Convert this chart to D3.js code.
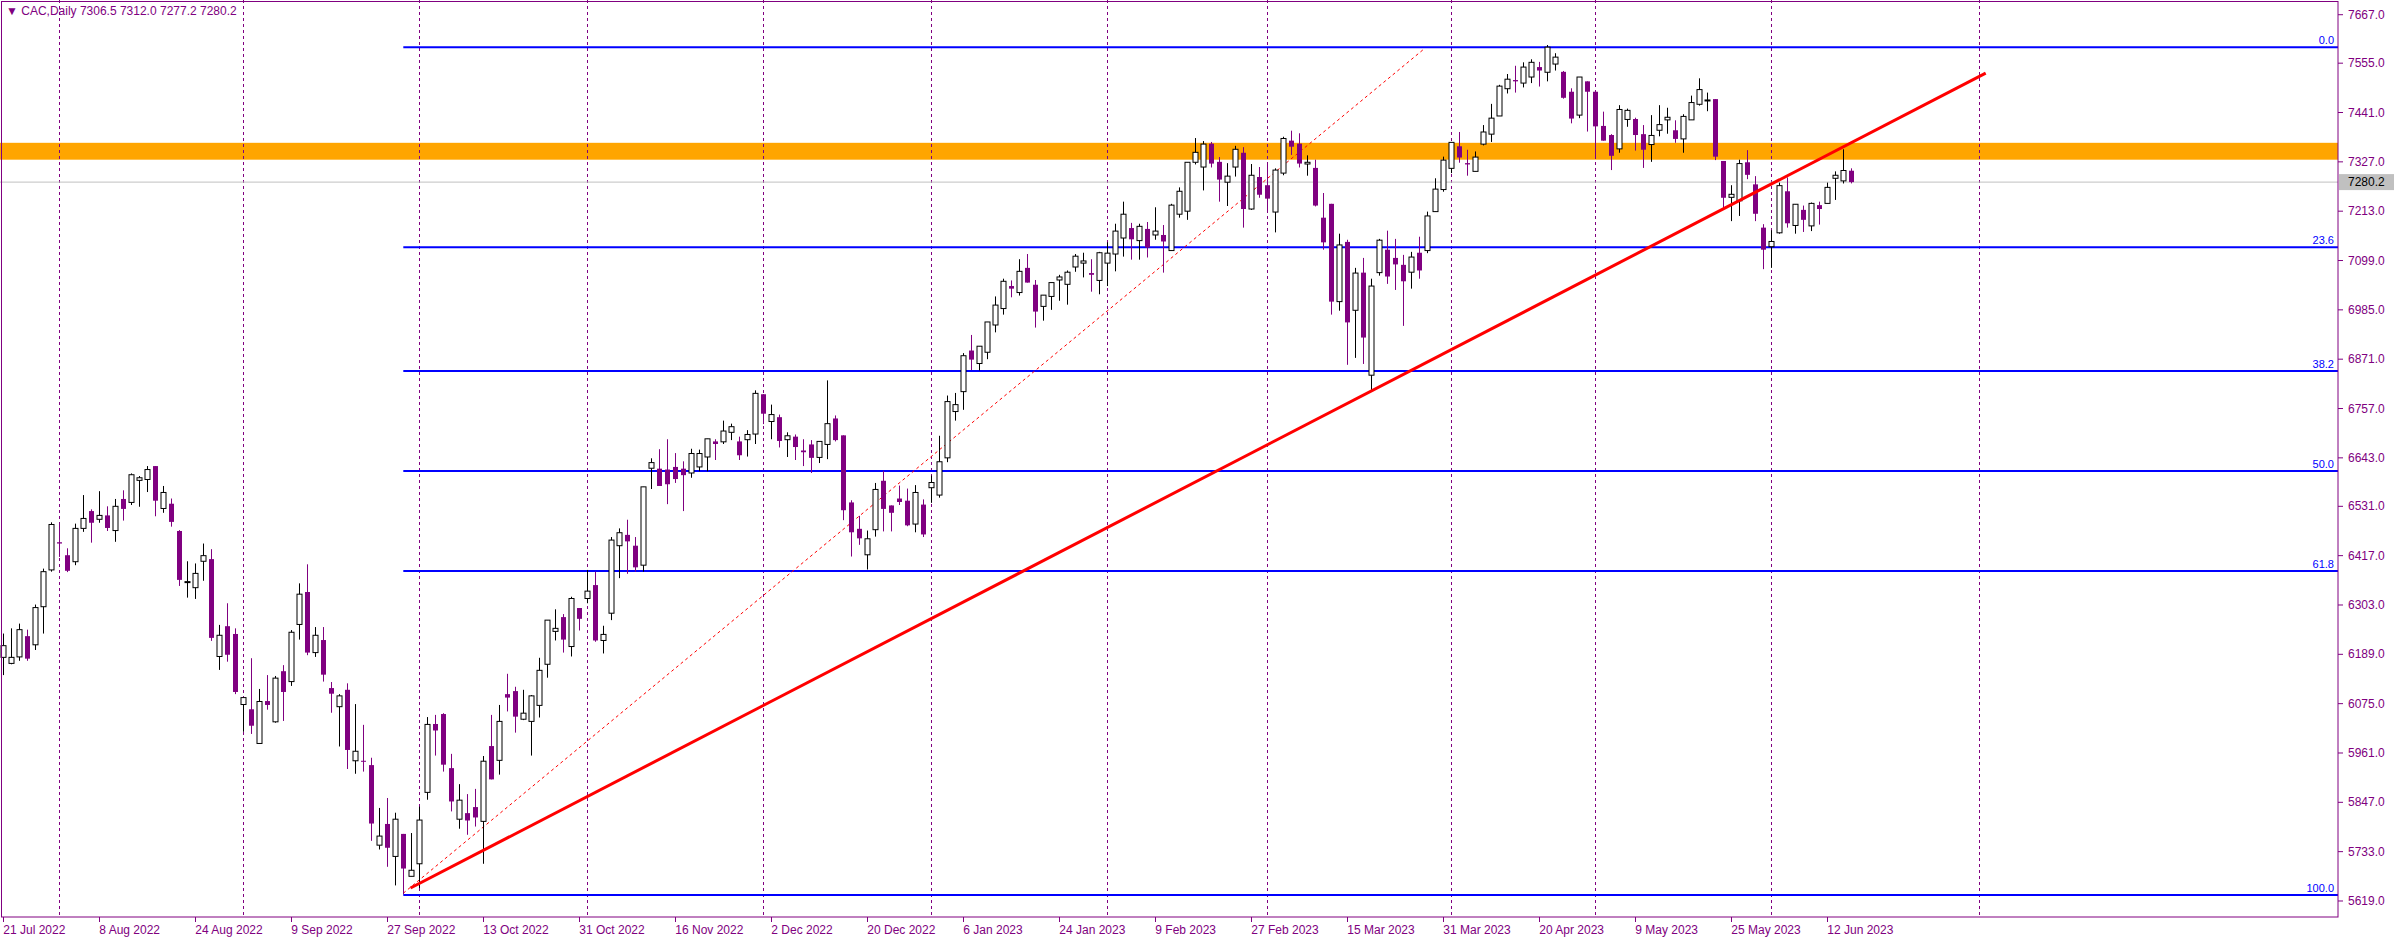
<!DOCTYPE html>
<html><head><meta charset="utf-8">
<script src="https://cdn.jsdelivr.net/npm/d3@7/dist/d3.min.js"></script>
<style>body{margin:0;background:#fff}svg{display:block}text{font-family:"Liberation Sans",Arial,sans-serif}</style>
</head><body>
<script>
// OHLC per trading day starting 21 Jul 2022
const opens=[6182,6168,6183,6231,6211,6299,6384,6448,6418,6403,6480,6520,6501,6510,6475,6548,6540,6591,6593,6624,6526,6537,6474,6356,6343,6404,6409,6184,6254,6236,6073,6062,5983,6081,6033,6150,6126,6258,6333,6193,6222,
6111,6068,6107,5943,5943,5933,5748,5797,5722,5774,5676,5705,5870,6028,6051,5926,5808,5822,5836,5803,5977,5944,6097,6104,6039,6034,6071,6166,6242,6275,6207,6296,6318,6349,6221,6284,6440,6465,6440,
6395,6619,6618,6616,6622,6618,6608,6622,6645,6681,6680,6702,6681,6685,6698,6790,6727,6737,6685,6692,6660,6674,6644,6674,6734,6695,6540,6479,6419,6477,6590,6533,6549,6544,6490,6535,6574,6557,6643,6750,6796,
6891,6861,6887,6950,6988,7040,7025,7082,7043,6993,7016,7054,7044,7084,7093,7070,7053,7093,7114,7151,7174,7145,7172,7158,7158,7122,7206,7213,7326,7315,7369,7327,7280,7315,7348,7218,7292,7273,7211,7301,
7376,7369,7322,7313,7198,7230,7004,7142,6984,7071,6834,7071,7124,7105,7089,7072,7117,7122,7212,7263,7312,7363,7324,7305,7368,7391,7433,7496,7516,7509,7523,7546,7534,7553,7535,7489,7435,7513,7489,7410,
7389,7357,7425,7426,7391,7367,7400,7424,7400,7380,7424,7460,7468,7472,7329,7245,7237,7326,7275,7175,7131,7163,7259,7180,7216,7179,7227,7231,7289,7283,7306.5];
const highs=[6237,6249,6260,6246,6304,6387,6494,6489,6434,6491,6557,6524,6566,6531,6548,6568,6607,6601,6624,6624,6578,6549,6476,6404,6399,6445,6432,6257,6307,6249,6089,6180,6109,6141,6139,6164,6245,6353,6397,6252,6252,
6125,6097,6122,6074,6026,5950,5834,5857,5823,5774,5776,5837,6044,6049,6053,5959,5889,5866,5878,5954,6049,6072,6144,6114,6107,6095,6181,6268,6293,6282,6322,6296,6384,6380,6255,6460,6480,6500,6460,
6576,6642,6663,6686,6654,6635,6664,6662,6687,6686,6729,6722,6692,6707,6799,6790,6766,6743,6702,6697,6686,6684,6681,6822,6741,6695,6545,6509,6475,6585,6613,6533,6579,6572,6580,6547,6602,6694,6787,6793,6885,
6927,6901,6957,7016,7057,7053,7102,7114,7054,7019,7048,7066,7076,7114,7117,7102,7119,7141,7184,7235,7186,7184,7188,7222,7181,7230,7268,7326,7382,7375,7373,7338,7324,7364,7361,7322,7315,7324,7312,7385,
7399,7393,7342,7332,7255,7230,7161,7147,7082,7105,7057,7149,7168,7149,7112,7119,7154,7212,7289,7339,7372,7396,7355,7351,7412,7461,7505,7530,7549,7557,7564,7558,7597,7578,7537,7497,7523,7513,7489,7443,
7391,7458,7450,7429,7412,7435,7458,7452,7423,7437,7480,7520,7487,7472,7329,7273,7332,7354,7294,7183,7169,7279,7291,7229,7226,7233,7235,7279,7305,7356,7312];
const lows=[6141,6166,6174,6174,6199,6237,6380,6414,6379,6395,6472,6447,6493,6474,6449,6498,6534,6530,6564,6508,6516,6484,6347,6320,6317,6359,6220,6153,6172,6097,6010,6005,5983,6061,6031,6035,6116,6223,6187,6183,6126,
6054,5976,5924,5913,5918,5758,5738,5698,5655,5634,5676,5649,5853,5955,5918,5826,5786,5772,5791,5705,5900,5911,6057,6008,6037,5955,6043,6135,6221,6193,6184,6244,6307,6218,6191,6268,6365,6375,6380,
6380,6571,6578,6536,6585,6520,6597,6612,6612,6638,6675,6684,6638,6646,6675,6721,6686,6667,6645,6638,6624,6608,6631,6640,6681,6499,6415,6442,6385,6461,6473,6473,6534,6485,6471,6460,6539,6551,6633,6729,6754,
6846,6845,6871,6933,6974,7014,7018,7048,6944,6960,6985,7006,6997,7073,7060,7027,7021,7040,7074,7108,7101,7101,7106,7147,7071,7122,7198,7193,7321,7261,7314,7235,7225,7293,7175,7216,7244,7214,7164,7296,
7343,7314,7295,7224,7124,6974,6983,6858,6874,6860,6796,7064,7045,7031,6948,7034,7057,7116,7212,7258,7301,7325,7295,7305,7365,7373,7433,7485,7487,7499,7509,7501,7513,7538,7473,7416,7428,7397,7335,7376,
7308,7348,7408,7353,7313,7327,7386,7392,7371,7348,7424,7457,7444,7331,7219,7190,7202,7287,7190,7079,7082,7161,7175,7161,7165,7167,7182,7231,7239,7277,7277.2];
const closes=[6209,6182,6246,6179,6297,6380,6489,6445,6382,6480,6503,6493,6510,6481,6531,6525,6604,6597,6616,6544,6563,6495,6361,6357,6376,6417,6227,6233,6188,6102,6089,6024,6080,6072,6134,6102,6240,6328,6193,6233,6142,
6098,6093,5968,5965,5942,5798,5769,5742,5808,5694,5690,5806,6027,6013,5934,5849,5852,5805,5812,5942,5900,6034,6089,6045,6053,6093,6152,6268,6249,6223,6318,6271,6335,6221,6235,6453,6470,6450,6390,
6576,6632,6578,6582,6594,6603,6653,6653,6687,6675,6705,6715,6649,6697,6792,6745,6743,6682,6694,6668,6656,6643,6681,6722,6684,6522,6471,6457,6456,6570,6525,6516,6541,6487,6563,6466,6586,6634,6773,6766,6879,
6870,6901,6957,6996,7051,7034,7074,7048,6981,7019,7048,7061,7072,7109,7098,7066,7117,7116,7167,7206,7148,7178,7129,7167,7143,7227,7259,7326,7349,7368,7323,7286,7294,7356,7218,7296,7251,7242,7308,7381,
7362,7323,7326,7226,7141,7004,7135,6956,7070,6921,7040,7146,7062,7090,7051,7107,7076,7202,7264,7331,7372,7337,7321,7338,7396,7428,7502,7518,7513,7546,7557,7538,7592,7569,7475,7427,7523,7489,7409,7376,
7341,7448,7446,7389,7355,7388,7413,7430,7380,7432,7464,7494,7470,7339,7244,7252,7323,7297,7207,7124,7143,7272,7185,7229,7193,7231,7218,7268,7296,7307,7280.2];
const holidays=["2022-12-26","2023-04-07","2023-04-10","2023-05-01"];
const priceTicks=[7667,7555,7441,7327,7213,7099,6985,6871,6757,6643,6531,6417,6303,6189,6075,5961,5847,5733,5619];
const fibHigh=7592, fibLow=5633, fibStartBar=50;
const fibLevels=[0,23.6,38.2,50,61.8,100];
const zone=[7332,7371];
const lastPrice=7280.2;
const trendPts=[{i:50.9,p:5649},{i:247.8,p:7532}];
const fibDiag=[{i:50,p:5637},{i:177.6,p:7588}];
const labelBars=[0,12,24,36,48,60,72,84,96,108,120,132,144,156,168,180,192,204,216,228];
const futureGridBar=247;

const days=[];{let d=new Date(Date.UTC(2022,6,21));while(days.length<240){const w=d.getUTCDay();const s=d.toISOString().slice(0,10);if(w!==0&&w!==6&&!holidays.includes(s))days.push(new Date(d));d=new Date(d.getTime()+864e5);}}
const data=opens.map((o,i)=>({i,o,h:highs[i],l:lows[i],c:closes[i]}));

const W=2396,H=941,R=2338,B=917;
const svg=d3.select("body").append("svg").attr("width",W).attr("height",H);
const x=d3.scaleLinear().domain([0,1]).range([3.3,11.3]);
const y=d3.scaleLinear().domain([7701,5582]).range([0,B]);
const PURP="#800080";
const plot=svg.append("g");
plot.append("defs").append("clipPath").attr("id","cp").append("rect").attr("width",R).attr("height",B);
const g=plot.append("g").attr("clip-path","url(#cp)");

g.append("rect").attr("x",0).attr("width",R).attr("y",y(zone[1])).attr("height",y(zone[0])-y(zone[1])).attr("fill","#ffa500");
const months=[];for(let k=1;k<data.length;k++){if(days[k].getUTCMonth()!==days[k-1].getUTCMonth())months.push(k);}
months.push(futureGridBar);
g.selectAll(".mg").data(months).join("line").attr("x1",d=>Math.round(x(d))+0.5).attr("x2",d=>Math.round(x(d))+0.5).attr("y1",0).attr("y2",B)
 .attr("stroke",PURP).attr("stroke-width",1).attr("stroke-dasharray","3,3");
g.append("line").attr("x1",0).attr("x2",R).attr("y1",y(lastPrice)).attr("y2",y(lastPrice)).attr("stroke","#c0c0c0");
const fibP=l=>fibHigh-(fibHigh-fibLow)*l/100;
g.selectAll(".fl").data(fibLevels).join("line").attr("x1",x(fibStartBar)).attr("x2",R).attr("y1",d=>y(fibP(d))).attr("y2",d=>y(fibP(d))).attr("stroke","#0000ff").attr("stroke-width",2);
svg.selectAll(".ft").data(fibLevels).join("text").attr("x",R-4).attr("y",d=>y(fibP(d))-3).attr("text-anchor","end").attr("font-size",11).attr("fill","#0000ff").text(d=>d.toFixed(1));
g.append("line").attr("x1",x(fibDiag[0].i)).attr("y1",y(fibDiag[0].p)).attr("x2",x(fibDiag[1].i)).attr("y2",y(fibDiag[1].p)).attr("stroke","#ff0000").attr("stroke-width",1).attr("stroke-dasharray","3,3");
const cg=g.append("g");
cg.selectAll(".w").data(data).join("line").attr("x1",d=>Math.round(x(d.i))+0.5).attr("x2",d=>Math.round(x(d.i))+0.5).attr("y1",d=>y(d.h)).attr("y2",d=>y(d.l))
 .attr("stroke",d=>d.c>=d.o?"#000":PURP).attr("stroke-width",1);
cg.selectAll(".b").data(data).join("rect").attr("x",d=>Math.round(x(d.i))-2).attr("width",5)
 .attr("y",d=>y(Math.max(d.o,d.c))).attr("height",d=>Math.max(1,y(Math.min(d.o,d.c))-y(Math.max(d.o,d.c))))
 .attr("fill",d=>d.c>=d.o?"#fff":PURP).attr("stroke",d=>d.c>=d.o?"#000":"none").attr("stroke-width",1);
g.append("line").attr("x1",x(trendPts[0].i)).attr("y1",y(trendPts[0].p)).attr("x2",x(trendPts[1].i)).attr("y2",y(trendPts[1].p)).attr("stroke","#ff0000").attr("stroke-width",3);

svg.append("rect").attr("x",1.5).attr("y",1.5).attr("width",R-1.5).attr("height",B-1.5).attr("fill","none").attr("stroke",PURP).attr("stroke-width",1);
const ax=svg.append("g");
ax.selectAll("line").data(priceTicks).join("line").attr("x1",R).attr("x2",R+5).attr("y1",d=>y(d)).attr("y2",d=>y(d)).attr("stroke",PURP);
ax.selectAll("text").data(priceTicks).join("text").attr("x",R+10).attr("y",d=>y(d)+4).attr("font-size",12).attr("fill",PURP).text(d=>d.toFixed(1));
ax.append("rect").attr("x",R+1).attr("y",y(lastPrice)-8).attr("width",W-R-3).attr("height",16).attr("fill","#c0c0c0");
ax.append("text").attr("x",R+10).attr("y",y(lastPrice)+4).attr("font-size",12).attr("fill","#000").text(lastPrice.toFixed(1));
const fmt=d3.utcFormat("%-d %b %Y");
const dx=svg.append("g");
dx.selectAll("line").data(labelBars).join("line").attr("x1",d=>Math.round(x(d))+0.5).attr("x2",d=>Math.round(x(d))+0.5).attr("y1",B).attr("y2",B+5).attr("stroke",PURP);
dx.selectAll("text").data(labelBars).join("text").attr("x",d=>x(d)).attr("y",B+17).attr("font-size",12).attr("fill",PURP).text(d=>fmt(days[d]));
svg.append("text").attr("x",6).attr("y",15).attr("font-size",12).attr("fill",PURP).text("▼ CAC,Daily  7306.5 7312.0 7277.2 7280.2");
</script>
</body></html>
